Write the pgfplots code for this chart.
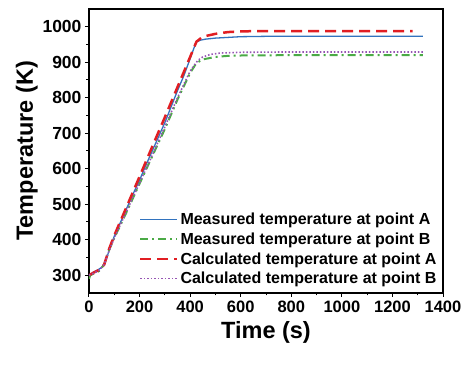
\documentclass[border=0pt]{standalone}
\usepackage{fontspec}
\setmainfont{Liberation Sans}
\usepackage{pgfplots}
\pgfplotsset{compat=1.18}
\definecolor{cblue}{RGB}{50,115,190}
\definecolor{cgreen}{RGB}{75,170,70}
\definecolor{cred}{RGB}{225,30,35}
\definecolor{cpurple}{RGB}{150,85,180}
\begin{document}
\begin{tikzpicture}
\begin{axis}[
  scale only axis, width=354pt, height=284pt,
  xmin=0, xmax=1400, ymin=250, ymax=1050,
  xtick={0,200,...,1400}, ytick={300,400,...,1000},
  minor x tick num=1, minor y tick num=1,
  tick align=outside, xtick pos=bottom, ytick pos=left,
  major tick length=4pt, minor tick length=2.5pt,
  every tick/.style={black, line width=1pt},
  axis line style={line width=1.3pt},
  /pgf/number format/assume math mode=true,
  /pgf/number format/1000 sep={},
  xticklabel style={font=\fontsize{16.5}{18}\selectfont\bfseries},
  yticklabel style={font=\fontsize{17.5}{19}\selectfont\bfseries},
  xlabel={Time (s)}, ylabel={Temperature (K)},
  label style={font=\fontsize{23.5}{26}\selectfont\bfseries},
  xlabel style={yshift=-2pt},
  ylabel style={yshift=-2pt},
  legend style={at={(rel axis cs:0.988,0.02)}, anchor=south east, draw=none, fill=none, inner sep=0pt,
    font=\fontsize{16}{18}\selectfont\bfseries, row sep=2.5pt},
  legend cell align=left,
  legend image code/.code={\draw[#1] (0pt,0pt) -- (37pt,0pt);},
]
\addplot[cblue, line width=1.3pt] coordinates {(0,300)(10,305)(20,310)(35,315)(50,322)(60,332)(70,350)(80,370)(100,410)(125,450)(150,490)(175,530)(200,568)(225,610)(250,650)(275,690)(300,730)(325,775)(350,820)(375,862)(400,910)(415,940)(425,957)(440,962)(460,965)(500,968)(550,970)(600,972)(700,973)(800,973)(1000,973)(1200,973)(1320,973)};
\addlegendentry{Measured temperature at point A}
\addplot[cgreen, line width=2pt, dash pattern=on 8pt off 4pt on 2pt off 4pt] coordinates {(0,290)(5,300)(20,305)(40,312)(60,330)(80,372)(100,405)(150,480)(200,558)(250,635)(300,712)(350,795)(400,870)(425,898)(450,908)(500,915)(550,918)(600,919)(800,920)(1000,920)(1320,920)};
\addlegendentry{Measured temperature at point B}
\addplot[cred, line width=2.5pt, dash pattern=on 11pt off 6pt] coordinates {(0,300)(20,308)(40,315)(60,330)(80,375)(100,412)(150,495)(200,578)(250,662)(300,745)(350,830)(400,915)(425,958)(450,972)(500,980)(550,985)(600,987)(700,988)(800,988)(1000,988)(1200,988)(1280,988)};
\addlegendentry{Calculated temperature at point A}
\addplot[cpurple, line width=1.6pt, dash pattern=on 1.5pt off 2pt] coordinates {(0,300)(20,306)(40,314)(60,330)(80,370)(100,405)(150,482)(200,560)(250,638)(300,718)(350,800)(400,875)(430,905)(450,915)(480,922)(520,926)(600,928)(800,929)(1000,929)(1320,929)};
\addlegendentry{Calculated temperature at point B}
\coordinate (bl) at (rel axis cs:0,0);
\coordinate (tr) at (rel axis cs:1,1);
\end{axis}
\path ([shift={(-89pt,-73pt)}]bl) rectangle ([shift={(31pt,9pt)}]tr);
\end{tikzpicture}
\end{document}
